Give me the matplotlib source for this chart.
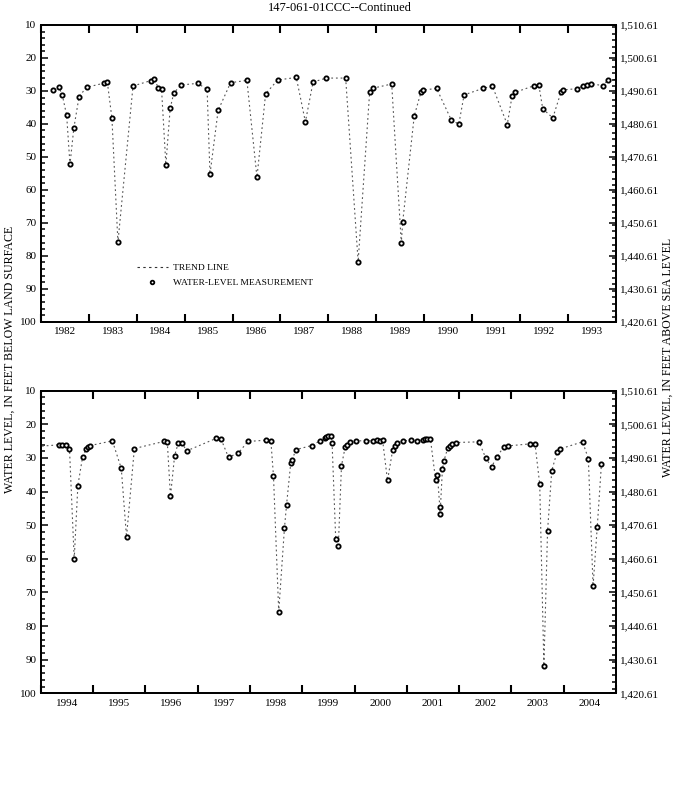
import numpy as np
import matplotlib.pyplot as plt
from matplotlib.ticker import MultipleLocator, FixedLocator, NullFormatter
from matplotlib.lines import Line2D

plt.rcParams['font.family'] = ['Liberation Serif', 'DejaVu Serif']

# measurements 1982-1993 (decimal year, depth below land surface in feet)
t1 = [1982.265, 1982.377, 1982.45, 1982.54, 1982.61, 1982.69, 1982.80, 1982.955,
      1983.33, 1983.39, 1983.485, 1983.61, 1983.925,
      1984.29, 1984.37, 1984.45, 1984.52, 1984.61, 1984.70, 1984.775, 1984.93,
      1985.27, 1985.47, 1985.53, 1985.70, 1985.96,
      1986.30, 1986.51, 1986.69, 1986.94,
      1987.33, 1987.52, 1987.68, 1987.955,
      1988.36, 1988.62, 1988.86, 1988.92,
      1989.32, 1989.52, 1989.55, 1989.79, 1989.93, 1989.97,
      1990.255, 1990.56, 1990.72, 1990.83,
      1991.23, 1991.42, 1991.73, 1991.83, 1991.90,
      1992.29, 1992.39, 1992.47, 1992.68, 1992.85, 1992.90,
      1993.19, 1993.32, 1993.40, 1993.47, 1993.73, 1993.83]
d1 = [29.7, 28.8, 31.3, 37.3, 52.3, 41.3, 31.7, 28.9,
      27.6, 27.4, 38.3, 75.9, 28.5,
      26.9, 26.4, 29.0, 29.5, 52.4, 35.3, 30.6, 28.2,
      27.7, 29.5, 55.3, 35.9, 27.5,
      26.8, 56.2, 30.9, 26.7,
      25.9, 39.4, 27.3, 26.1,
      26.1, 81.8, 30.4, 29.2,
      27.9, 76.1, 69.7, 37.6, 30.4, 29.8,
      29.2, 38.7, 40.1, 31.2,
      29.2, 28.5, 40.2, 31.6, 30.4,
      28.4, 28.3, 35.4, 38.2, 30.4, 29.7,
      29.3, 28.4, 28.3, 27.8, 28.4, 26.7]

# measurements 1994-2004
t2 = [1994.34, 1994.41, 1994.48, 1994.55, 1994.64, 1994.71, 1994.80, 1994.87, 1994.90, 1994.95,
      1995.37, 1995.54, 1995.64, 1995.79,
      1996.35, 1996.42, 1996.48, 1996.56, 1996.63, 1996.70, 1996.79,
      1997.35, 1997.45, 1997.59, 1997.78, 1997.96,
      1998.31, 1998.40, 1998.45, 1998.55, 1998.66, 1998.70, 1998.78, 1998.80, 1998.885,
      1999.18, 1999.33, 1999.43, 1999.45, 1999.50, 1999.55, 1999.57, 1999.64, 1999.69,
      1999.75, 1999.82, 1999.86, 1999.92,
      2000.02, 2000.21, 2000.36, 2000.42, 2000.48, 2000.535, 2000.63, 2000.73, 2000.78, 2000.81, 2000.92,
      2001.07, 2001.20, 2001.30, 2001.34, 2001.39, 2001.45, 2001.55, 2001.585, 2001.63, 2001.635,
      2001.68, 2001.71, 2001.78, 2001.82, 2001.87, 2001.94,
      2002.38, 2002.51, 2002.62, 2002.72, 2002.85, 2002.94,
      2003.36, 2003.45, 2003.54, 2003.62, 2003.69, 2003.77, 2003.87, 2003.93,
      2004.36, 2004.47, 2004.56, 2004.64, 2004.72]
d2 = [26.1, 26.1, 26.0, 27.4, 60.1, 38.2, 29.7, 27.2, 26.8, 26.3,
      24.9, 33.1, 53.5, 27.2,
      25.1, 25.3, 41.4, 29.3, 25.5, 25.5, 27.9,
      24.2, 24.5, 29.8, 28.5, 25.1,
      24.7, 24.9, 35.4, 75.7, 50.8, 43.9, 31.5, 30.6, 27.5,
      26.3, 25.0, 24.1, 23.7, 23.5, 23.4, 25.4, 54.2, 56.1,
      32.3, 26.8, 26.0, 25.2,
      24.9, 24.9, 24.9, 24.8, 24.9, 24.6, 36.7, 27.5, 26.3, 25.6, 24.9,
      24.8, 24.9, 24.6, 24.4, 24.3, 24.3, 36.6, 35.1, 44.7, 46.7,
      33.3, 30.8, 27.1, 26.3, 25.7, 25.4,
      25.2, 30.1, 32.6, 29.8, 26.7, 26.4,
      25.8, 25.8, 37.8, 91.8, 51.7, 33.8, 28.3, 27.3,
      25.2, 30.2, 68.1, 50.5, 31.8]

land_surface = 1520.61
title = '147-061-01CCC--Continued'
panels = [(1982, 1994), (1994, 2005)]

t_all = np.array(t1 + t2)
d_all = np.array(d1 + d2)

fig = plt.figure(figsize=(6.8, 7.86), dpi=100)
boxes = [[0.0599, 0.5907, 0.8461, 0.3775], [0.0599, 0.1179, 0.8461, 0.3850]]

trend_style = dict(color='#555555', lw=0.8, ls=(0, (1.6, 2.6)))
point_style = dict(ls='none', marker='o', ms=3.1, mfc='white', mec='black', mew=1.3)

axes = []
for (y0, y1), box in zip(panels, boxes):
    ax = fig.add_axes(box)
    ax.plot(t_all, d_all, zorder=2, **trend_style)
    ax.plot(t_all, d_all, zorder=3, **point_style)
    ax.set_xlim(y0, y1)
    ax.set_ylim(100, 10)

    # year boundaries as ticks, year labels centred between them
    ax.xaxis.set_major_locator(FixedLocator(np.arange(y0, y1 + 1)))
    ax.xaxis.set_major_formatter(NullFormatter())
    ax.xaxis.set_minor_locator(FixedLocator(np.arange(y0, y1) + 0.5))
    ax.set_xticklabels([str(y) for y in range(y0, y1)], minor=True)
    ax.tick_params(axis='x', which='major', direction='in', length=6, width=1.5,
                   top=True, bottom=True)
    ax.tick_params(axis='x', which='minor', length=0, pad=4, labelsize=8)

    ax.yaxis.set_major_locator(MultipleLocator(10))
    ax.yaxis.set_minor_locator(MultipleLocator(2))
    ax.tick_params(axis='y', which='major', direction='in', length=5, width=1.1,
                   labelsize=8, pad=3)
    ax.tick_params(axis='y', which='minor', direction='in', length=3, width=1.1)
    for sp in ax.spines.values():
        sp.set_linewidth(1.3)

    ax2 = ax.twinx()
    ax2.set_ylim(land_surface - 100, land_surface - 10)
    ax2.yaxis.set_major_locator(FixedLocator(np.arange(land_surface - 100, land_surface - 9, 10)))
    ax2.yaxis.set_major_formatter(lambda v, p: '{:,.2f}'.format(v))
    ax2.yaxis.set_minor_locator(MultipleLocator(2))
    ax2.tick_params(axis='y', which='major', direction='in', length=5, width=1.1,
                    labelsize=8, pad=3)
    ax2.tick_params(axis='y', which='minor', direction='in', length=3, width=1.1)
    for sp in ax2.spines.values():
        sp.set_linewidth(1.3)
    axes.append(ax)

# legend in the upper panel
h_line = Line2D([], [], color='#333333', lw=0.8, ls=(0, (2.2, 3.0)))
h_pt = Line2D([], [], ls='none', marker='o', ms=2.6, mfc='white', mec='black', mew=1.3)
axes[0].legend([h_line, h_pt], ['TREND LINE', 'WATER-LEVEL MEASUREMENT'],
               loc='upper left', bbox_to_anchor=(0.152, 0.225), frameon=False,
               fontsize=6.8, handlelength=3.3, handletextpad=0.55, labelspacing=0.65)

fig.text(0.5, 1 - 8 / 786, title, ha='center', va='center', fontsize=9)
fig.text(0.014, 1 - 359 / 786, 'WATER LEVEL, IN FEET BELOW LAND SURFACE',
         rotation=90, ha='center', va='center', fontsize=8.6)
fig.text(0.982, 1 - 357 / 786, 'WATER LEVEL, IN FEET ABOVE SEA LEVEL',
         rotation=90, ha='center', va='center', fontsize=8.6)

fig.savefig('out.png', dpi=100)
